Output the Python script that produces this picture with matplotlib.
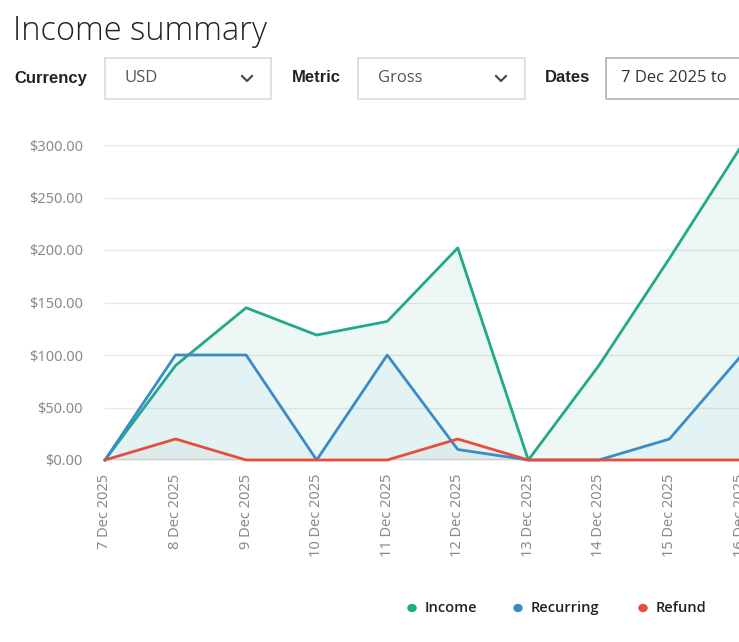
import matplotlib.pyplot as plt
import matplotlib.patches as patches
import numpy as np

dates = ['7 Dec 2025', '8 Dec 2025', '9 Dec 2025', '10 Dec 2025', '11 Dec 2025',
         '12 Dec 2025', '13 Dec 2025', '14 Dec 2025', '15 Dec 2025', '16 Dec 2025']
income = [0, 90, 145, 119, 132, 202, 0, 90, 192, 297]
recurring = [0, 100, 100, 0, 100, 10, 0, 0, 20, 98]
refund = [0, 20, 0, 0, 0, 20, 0, 0, 0, 0]
y_ticks = [0, 50, 100, 150, 200, 250, 300]

c_income = '#22a98a'
c_recur = '#3a8cc8'
c_refund = '#e84c3d'
grey = '#8a8a8a'

fig = plt.figure(figsize=(7.39, 6.42), dpi=100)
W, H = 739, 642


def fx(px):
    return px / W


def fy(py):
    return 1 - py / H


# Header
fig.text(fx(13), fy(31), 'Income summary', fontsize=23.5, family='Open Sans',
         weight='light', color='#222222', va='center', ha='left')

# Controls row
def dropdown(x0, x1, label, edge='#dcdcdc', chevron=True):
    box = patches.Rectangle((fx(x0), fy(99)), fx(x1 - x0), 41 / H,
                            transform=fig.transFigure, fill=False,
                            edgecolor=edge, lw=1.2, clip_on=False)
    fig.add_artist(box)
    fig.text(fx(x0 + 20 if chevron else x0 + 15), fy(78), label, fontsize=12,
             family='Open Sans', color='#333333' if not chevron else '#555555',
             va='center', ha='left')
    if chevron:
        cx = x1 - 24
        fig.add_artist(plt.Line2D([fx(cx - 5), fx(cx), fx(cx + 5)],
                                  [fy(76), fy(81), fy(76)],
                                  transform=fig.transFigure, color='#444444', lw=1.5))


for px, name in [(14, 'Currency'), (292, 'Metric'), (545, 'Dates')]:
    fig.text(fx(px), fy(78), name, fontsize=12, family='Liberation Sans', weight='bold',
             color='#222222', va='center', ha='left')
dropdown(105, 271, 'USD')
dropdown(358, 525, 'Gross')
dropdown(606, 760, '7 Dec 2025 to', edge='#b0b0b0', chevron=False)

# Chart area
x0, x1 = 105, 740
y0, y1 = 460, 145
ax = fig.add_axes([fx(x0), fy(y0), fx(x1 - x0), (y0 - y1) / H])
x = np.arange(len(dates))
ax.set_xlim(0, len(dates) - 1)
ax.set_ylim(0, 300)

ax.fill_between(x, income, color=c_income, alpha=0.08, lw=0)
ax.fill_between(x, recurring, color=c_recur, alpha=0.05, lw=0)
ax.fill_between(x, refund, color='#999999', alpha=0.08, lw=0)

ax.plot(x, income, color=c_income, lw=2, clip_on=False, zorder=3)
ax.plot(x, recurring, color=c_recur, lw=2, clip_on=False, zorder=4)
ax.plot(x, refund, color=c_refund, lw=2, clip_on=False, zorder=5)

for s in ax.spines.values():
    s.set_visible(False)
ax.axhline(0, color='#cccccc', lw=1.5, zorder=2)
ax.set_yticks(y_ticks)
ax.set_yticklabels([f'${v:.2f}' for v in y_ticks])
ax.yaxis.grid(True, color='#e8e8e8', lw=1)
ax.set_axisbelow(True)
ax.set_xticks(x)
ax.set_xticklabels(dates, rotation=90, va='top', ha='center')
ax.tick_params(axis='both', length=0, colors=grey, labelsize=10.5)
ax.tick_params(axis='y', pad=16)
ax.tick_params(axis='x', pad=10)
for t in ax.get_xticklabels() + ax.get_yticklabels():
    t.set_family('Noto Sans')

# Legend
for px, name, c in [(412, 'Income', c_income), (518, 'Recurring', c_recur),
                    (643, 'Refund', c_refund)]:
    fig.add_artist(patches.Circle((fx(px), fy(608)), 4 / W, transform=fig.transFigure,
                                  color=c))
    fig.text(fx(px + 13), fy(608), name, fontsize=10.5, family='Open Sans',
             weight='semibold', color='#222222', va='center', ha='left')

fig.savefig('out.png', dpi=100)
